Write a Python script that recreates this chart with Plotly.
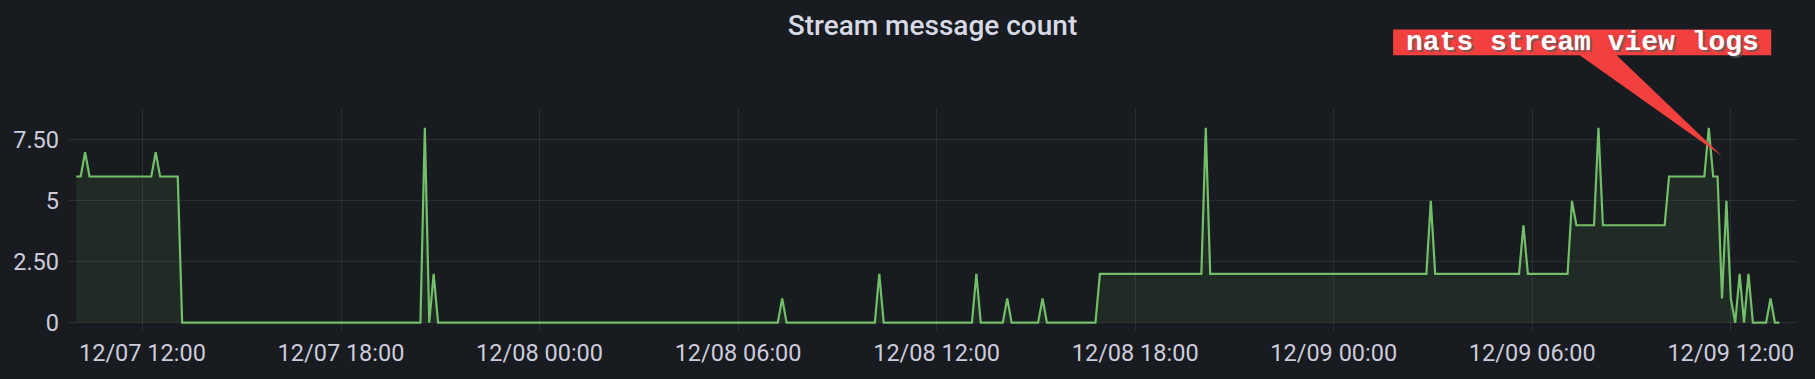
import plotly.graph_objects as go

# ---- data ----
times = [
    "2023-12-07 10:00", "2023-12-07 10:08", "2023-12-07 10:16", "2023-12-07 10:24",
    "2023-12-07 12:16", "2023-12-07 12:24", "2023-12-07 12:32", "2023-12-07 13:04",
    "2023-12-07 13:12",
    "2023-12-07 20:24", "2023-12-07 20:32", "2023-12-07 20:40", "2023-12-07 20:48",
    "2023-12-07 20:56",
    "2023-12-08 07:12", "2023-12-08 07:20", "2023-12-08 07:28",
    "2023-12-08 10:08", "2023-12-08 10:16", "2023-12-08 10:24",
    "2023-12-08 13:04", "2023-12-08 13:12", "2023-12-08 13:20",
    "2023-12-08 14:00", "2023-12-08 14:08", "2023-12-08 14:16",
    "2023-12-08 15:04", "2023-12-08 15:12", "2023-12-08 15:20",
    "2023-12-08 16:48", "2023-12-08 16:56",
    "2023-12-08 20:00", "2023-12-08 20:08", "2023-12-08 20:16",
    "2023-12-09 02:48", "2023-12-09 02:56", "2023-12-09 03:04",
    "2023-12-09 05:36", "2023-12-09 05:44", "2023-12-09 05:52",
    "2023-12-09 07:04", "2023-12-09 07:12", "2023-12-09 07:20",
    "2023-12-09 07:52", "2023-12-09 08:00", "2023-12-09 08:08",
    "2023-12-09 10:00", "2023-12-09 10:08",
    "2023-12-09 11:12", "2023-12-09 11:20", "2023-12-09 11:28", "2023-12-09 11:36",
    "2023-12-09 11:44", "2023-12-09 11:52", "2023-12-09 12:00", "2023-12-09 12:08",
    "2023-12-09 12:16", "2023-12-09 12:24", "2023-12-09 12:32", "2023-12-09 12:40",
    "2023-12-09 13:04", "2023-12-09 13:12", "2023-12-09 13:20", "2023-12-09 13:28",
]
counts = [
    6, 6, 7, 6,
    6, 7, 6, 6,
    0,
    0, 8, 0, 2,
    0,
    0, 1, 0,
    0, 2, 0,
    0, 2, 0,
    0, 1, 0,
    0, 1, 0,
    0, 2,
    2, 8, 2,
    2, 5, 2,
    2, 4, 2,
    2, 5, 4,
    4, 8, 4,
    4, 6,
    6, 8, 6, 6,
    1, 5, 1, 0,
    2, 0, 2, 0,
    0, 1, 0, 0,
]

y_tickvals = [0, 2.5, 5, 7.5]
y_ticktext = ["0", "2.50", "5", "7.50"]
x_range = ["2023-12-07 09:45", "2023-12-09 14:00"]
y_range = [-0.34, 8.81]

title_text = "Stream message count"
callout_text = "nats stream view logs"

BG = "#181b1f"
GRID = "rgba(204,204,220,0.10)"
TEXT = "#ccccdc"
TITLE = "#d8d9e6"
GREEN = "#73bf69"
RED = "#f2403f"

fig = go.Figure()
fig.add_trace(go.Scatter(
    x=times, y=counts, mode="lines",
    line=dict(color=GREEN, width=2.2),
    fill="tozeroy", fillcolor="rgba(115,191,105,0.10)",
    hoverinfo="skip", showlegend=False,
))

# callout box + wedge (paper coordinates, decorative)
fig.add_shape(type="rect", xref="paper", yref="paper",
              x0=0.7664, x1=0.9851, y0=1.2369, y1=1.3524,
              fillcolor=RED, line=dict(width=0), layer="above")
fig.add_shape(type="path", xref="paper", yref="paper",
              path="M 0.8733 1.2420 L 0.8949 1.2420 L 0.9566 0.7849 Z",
              fillcolor=RED, line=dict(width=0), layer="above")
fig.add_annotation(xref="paper", yref="paper", x=0.8758, y=1.2947,
                   text=callout_text, showarrow=False,
                   xanchor="center", yanchor="middle",
                   font=dict(family="Courier New, Liberation Mono, monospace", size=28,
                             color="#ffffff", weight="bold",
                             shadow="2px 2px 0px rgba(90,90,90,0.7)"))

fig.update_layout(
    width=1815, height=379,
    margin=dict(l=68, r=18, t=108, b=46),
    paper_bgcolor=BG, plot_bgcolor=BG,
    font=dict(family="Roboto", color=TEXT, size=23),
    title=dict(text=title_text, x=0.5, xref="paper", xanchor="center",
               y=1 - 25.5 / 379, yref="container", yanchor="middle",
               font=dict(family="Roboto", size=28, color=TITLE, weight=500)),
    showlegend=False,
)
fig.update_xaxes(
    type="date", range=x_range,
    dtick=6 * 3600 * 1000, tick0="2023-12-07 00:00",
    tickformat="%m/%d %H:%M",
    showgrid=True, gridcolor=GRID, gridwidth=1,
    zeroline=False, showline=False, ticks="",
    tickfont=dict(family="Roboto", size=23.5, color=TEXT),
    ticklabelstandoff=5,
)
fig.update_yaxes(
    range=y_range, tickvals=y_tickvals, ticktext=y_ticktext,
    showgrid=True, gridcolor=GRID, gridwidth=1,
    zeroline=False, showline=False, ticks="",
    tickfont=dict(family="Roboto", size=23.5, color=TEXT),
    ticklabelstandoff=8,
)

fig.write_html("out.html")
